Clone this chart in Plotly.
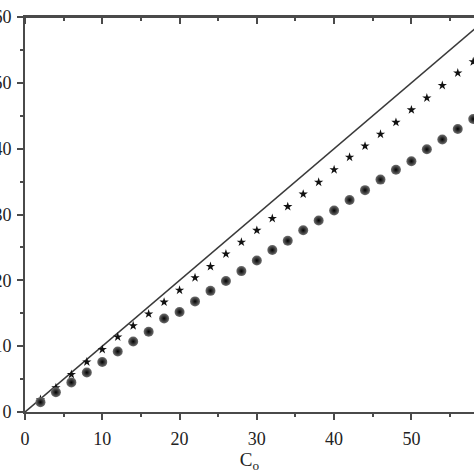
import plotly.graph_objects as go

# Data
line_x = [0, 60]
line_y = [0, 60]

co_values = [2, 4, 6, 8, 10, 12, 14, 16, 18, 20, 22, 24, 26, 28, 30,
             32, 34, 36, 38, 40, 42, 44, 46, 48, 50, 52, 54, 56, 58]
star_values = [1.9, 3.7, 5.7, 7.6, 9.5, 11.4, 13.1, 14.9, 16.7, 18.5, 20.4, 22.1, 24.0, 25.8, 27.6,
               29.4, 31.2, 33.1, 34.9, 36.8, 38.7, 40.4, 42.2, 44.0, 45.9, 47.7, 49.6, 51.5, 53.2]
circle_values = [1.5, 3.0, 4.5, 6.0, 7.6, 9.2, 10.7, 12.2, 14.2, 15.2, 16.8, 18.4, 19.9, 21.4, 23.0,
                 24.6, 26.0, 27.6, 29.1, 30.6, 32.2, 33.7, 35.3, 36.8, 38.1, 39.9, 41.4, 43.0, 44.5]

x_ticks = [0, 10, 20, 30, 40, 50, 60]
y_ticks = [0, 10, 20, 30, 40, 50, 60]
x_range = [0, 58.1]

axis_color = "#4a4a4a"
font_family = "Liberation Serif, Times New Roman, serif"

fig = go.Figure()
fig.add_trace(go.Scatter(x=line_x, y=line_y, mode="lines",
                         line=dict(color="#3a3a3a", width=1.6), showlegend=False))
fig.add_trace(go.Scatter(x=co_values, y=star_values, mode="markers",
                         marker=dict(symbol="star", size=7, color="#111111",
                                     line=dict(width=0)), showlegend=False))
fig.add_trace(go.Scatter(x=co_values, y=circle_values, mode="markers",
                         marker=dict(symbol="circle", size=10, color="#707070",
                                     gradient=dict(type="radial", color="#000000"),
                                     line=dict(width=0)), showlegend=False))
# trace on the top axis (same data as the line, invisible) so that it is drawn
fig.add_trace(go.Scatter(x=line_x, y=line_y, xaxis="x2", yaxis="y", mode="lines",
                         line=dict(width=1, color="rgba(0,0,0,0)"), hoverinfo="skip",
                         showlegend=False))

minor_out = dict(dtick=5, tick0=0, ticks="outside", ticklen=3, tickwidth=1.5, tickcolor=axis_color)
minor_in = dict(dtick=5, tick0=0, ticks="outside", ticklen=3, tickwidth=1.5, tickcolor=axis_color)

fig.update_layout(
    width=474, height=474,
    margin=dict(l=25, r=0, t=17, b=62, autoexpand=False),
    paper_bgcolor="white", plot_bgcolor="white",
    font=dict(family=font_family, size=18, color="#222222"),
    xaxis=dict(range=x_range, tickvals=x_ticks, ticks="outside", ticklen=6,
               tickwidth=1.5, tickcolor=axis_color, automargin=False,
               ticklabelstandoff=3, mirror=True,
               showline=True, linecolor=axis_color, linewidth=2, showgrid=False,
               zeroline=False, minor=minor_out,
               title=dict(text="C<sub>o</sub>", font=dict(size=19), standoff=0)),
    # free top axis placed at the top edge of the plot, ticks pointing down into the plot
    xaxis2=dict(overlaying="x", anchor="free", position=1.0, side="bottom", range=x_range,
                tickvals=x_ticks, ticks="outside", ticklen=6, tickwidth=1.5,
                tickcolor=axis_color, showticklabels=False, showline=True,
                linecolor=axis_color, linewidth=2, showgrid=False, zeroline=False,
                automargin=False, minor=minor_in),
    yaxis=dict(range=[0, 60], tickvals=y_ticks, ticks="outside", ticklen=6,
               tickwidth=1.5, tickcolor=axis_color, automargin=False,
               ticklabelstandoff=2,
               showline=True, linecolor=axis_color, linewidth=2, showgrid=False,
               zeroline=False, minor=minor_out),
)

fig.write_html("out.html", config={"displayModeBar": False},
               post_script="document.body.style.margin='0';")
